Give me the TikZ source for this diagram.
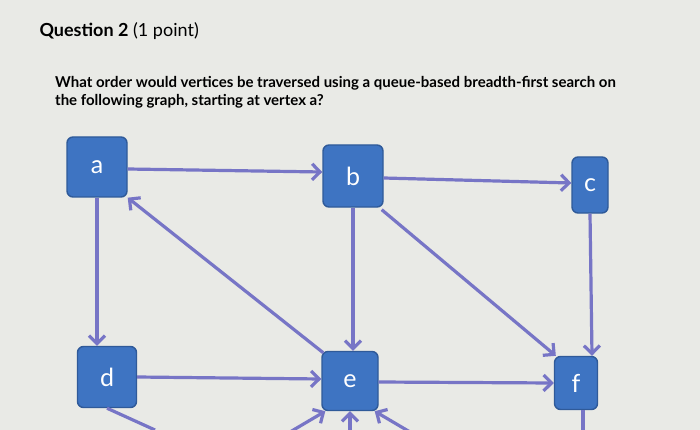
\documentclass[tikz,border=0pt]{standalone}
\usepackage{fontspec}
\setmainfont{Lato}
\usetikzlibrary{arrows.meta}
\definecolor{bg}{HTML}{E9EAE6}
\definecolor{nodeblue}{HTML}{3E74C2}
\definecolor{nodeedge}{HTML}{2F5A99}
\definecolor{edgec}{HTML}{7775C6}
\begin{document}
\begin{tikzpicture}[x=1pt,y=-1pt,
  vbox/.style={draw=nodeedge,line width=1.4pt,fill=nodeblue,rounded corners=6pt,text=white,font=\fontsize{25}{25}\selectfont,inner sep=0pt},
  edge/.style={draw=edgec,line width=3.2pt,-{Straight Barb[length=8pt,width=16pt]}},
  stub/.style={draw=edgec,line width=3.2pt}]
\fill[bg] (0,0) rectangle (700,430);
\useasboundingbox (0,0) rectangle (700,430);
\node[anchor=west,font=\fontsize{18}{20}\selectfont] (title) at (36,31) {\textbf{Question 2} (1 point)};
\node[anchor=north west,align=left,font=\fontsize{15}{18}\selectfont,inner sep=0pt] (q) at (55,76)
 {\textbf{What order would vertices be traversed using a queue-based breadth-first search on}\\\textbf{the following graph, starting at vertex a?}};
\node[vbox,minimum width=60pt,minimum height=60pt] (a) at (97,167) {a};
\node[vbox,minimum width=60pt,minimum height=62pt] (b) at (353,176) {b};
\node[vbox,minimum width=36pt,minimum height=56pt] (c) at (590,185) {c};
\node[vbox,minimum width=59pt,minimum height=61pt] (d) at (107,377) {d};
\node[vbox,minimum width=56pt,minimum height=59pt] (e) at (350,381) {e};
\node[vbox,minimum width=43pt,minimum height=53pt] (f) at (576,383) {f};
\draw[edge] (a.east|-0,169) -- (b.west|-0,172);
\draw[edge] (b.east|-0,178) -- (c.west|-0,183);
\draw[edge] (a.south) -- (d.north-|a.south);
\draw[edge] (e.north west) ++(2,2) -- (a.south east) ;
\draw[edge] (b.south) -- (e.north-|b.south);
\draw[edge] (b.south east) ++(-2,2) -- ([xshift=2pt]f.north west);
\draw[edge] (c.south) -- ([xshift=16pt]f.north);
\draw[edge] (d.east|-0,377) -- (e.west|-0,379);
\draw[edge] (e.east|-0,382) -- (f.west|-0,383);
\coordinate (d1) at (155,430);
\draw[stub] (d.south) -- (d1);
\coordinate (e1) at (290,432);
\coordinate (e2) at (350,432);
\coordinate (e3) at (410,432);
\draw[edge] (e1) -- ([xshift=4pt]e.south west);
\draw[edge] (e2) -- (e.south);
\draw[edge] (e3) -- ([xshift=-4pt]e.south east);
\coordinate (f1) at (583,432);
\draw[stub] ([xshift=7pt]f.south) -- (f1);
\end{tikzpicture}
\end{document}
